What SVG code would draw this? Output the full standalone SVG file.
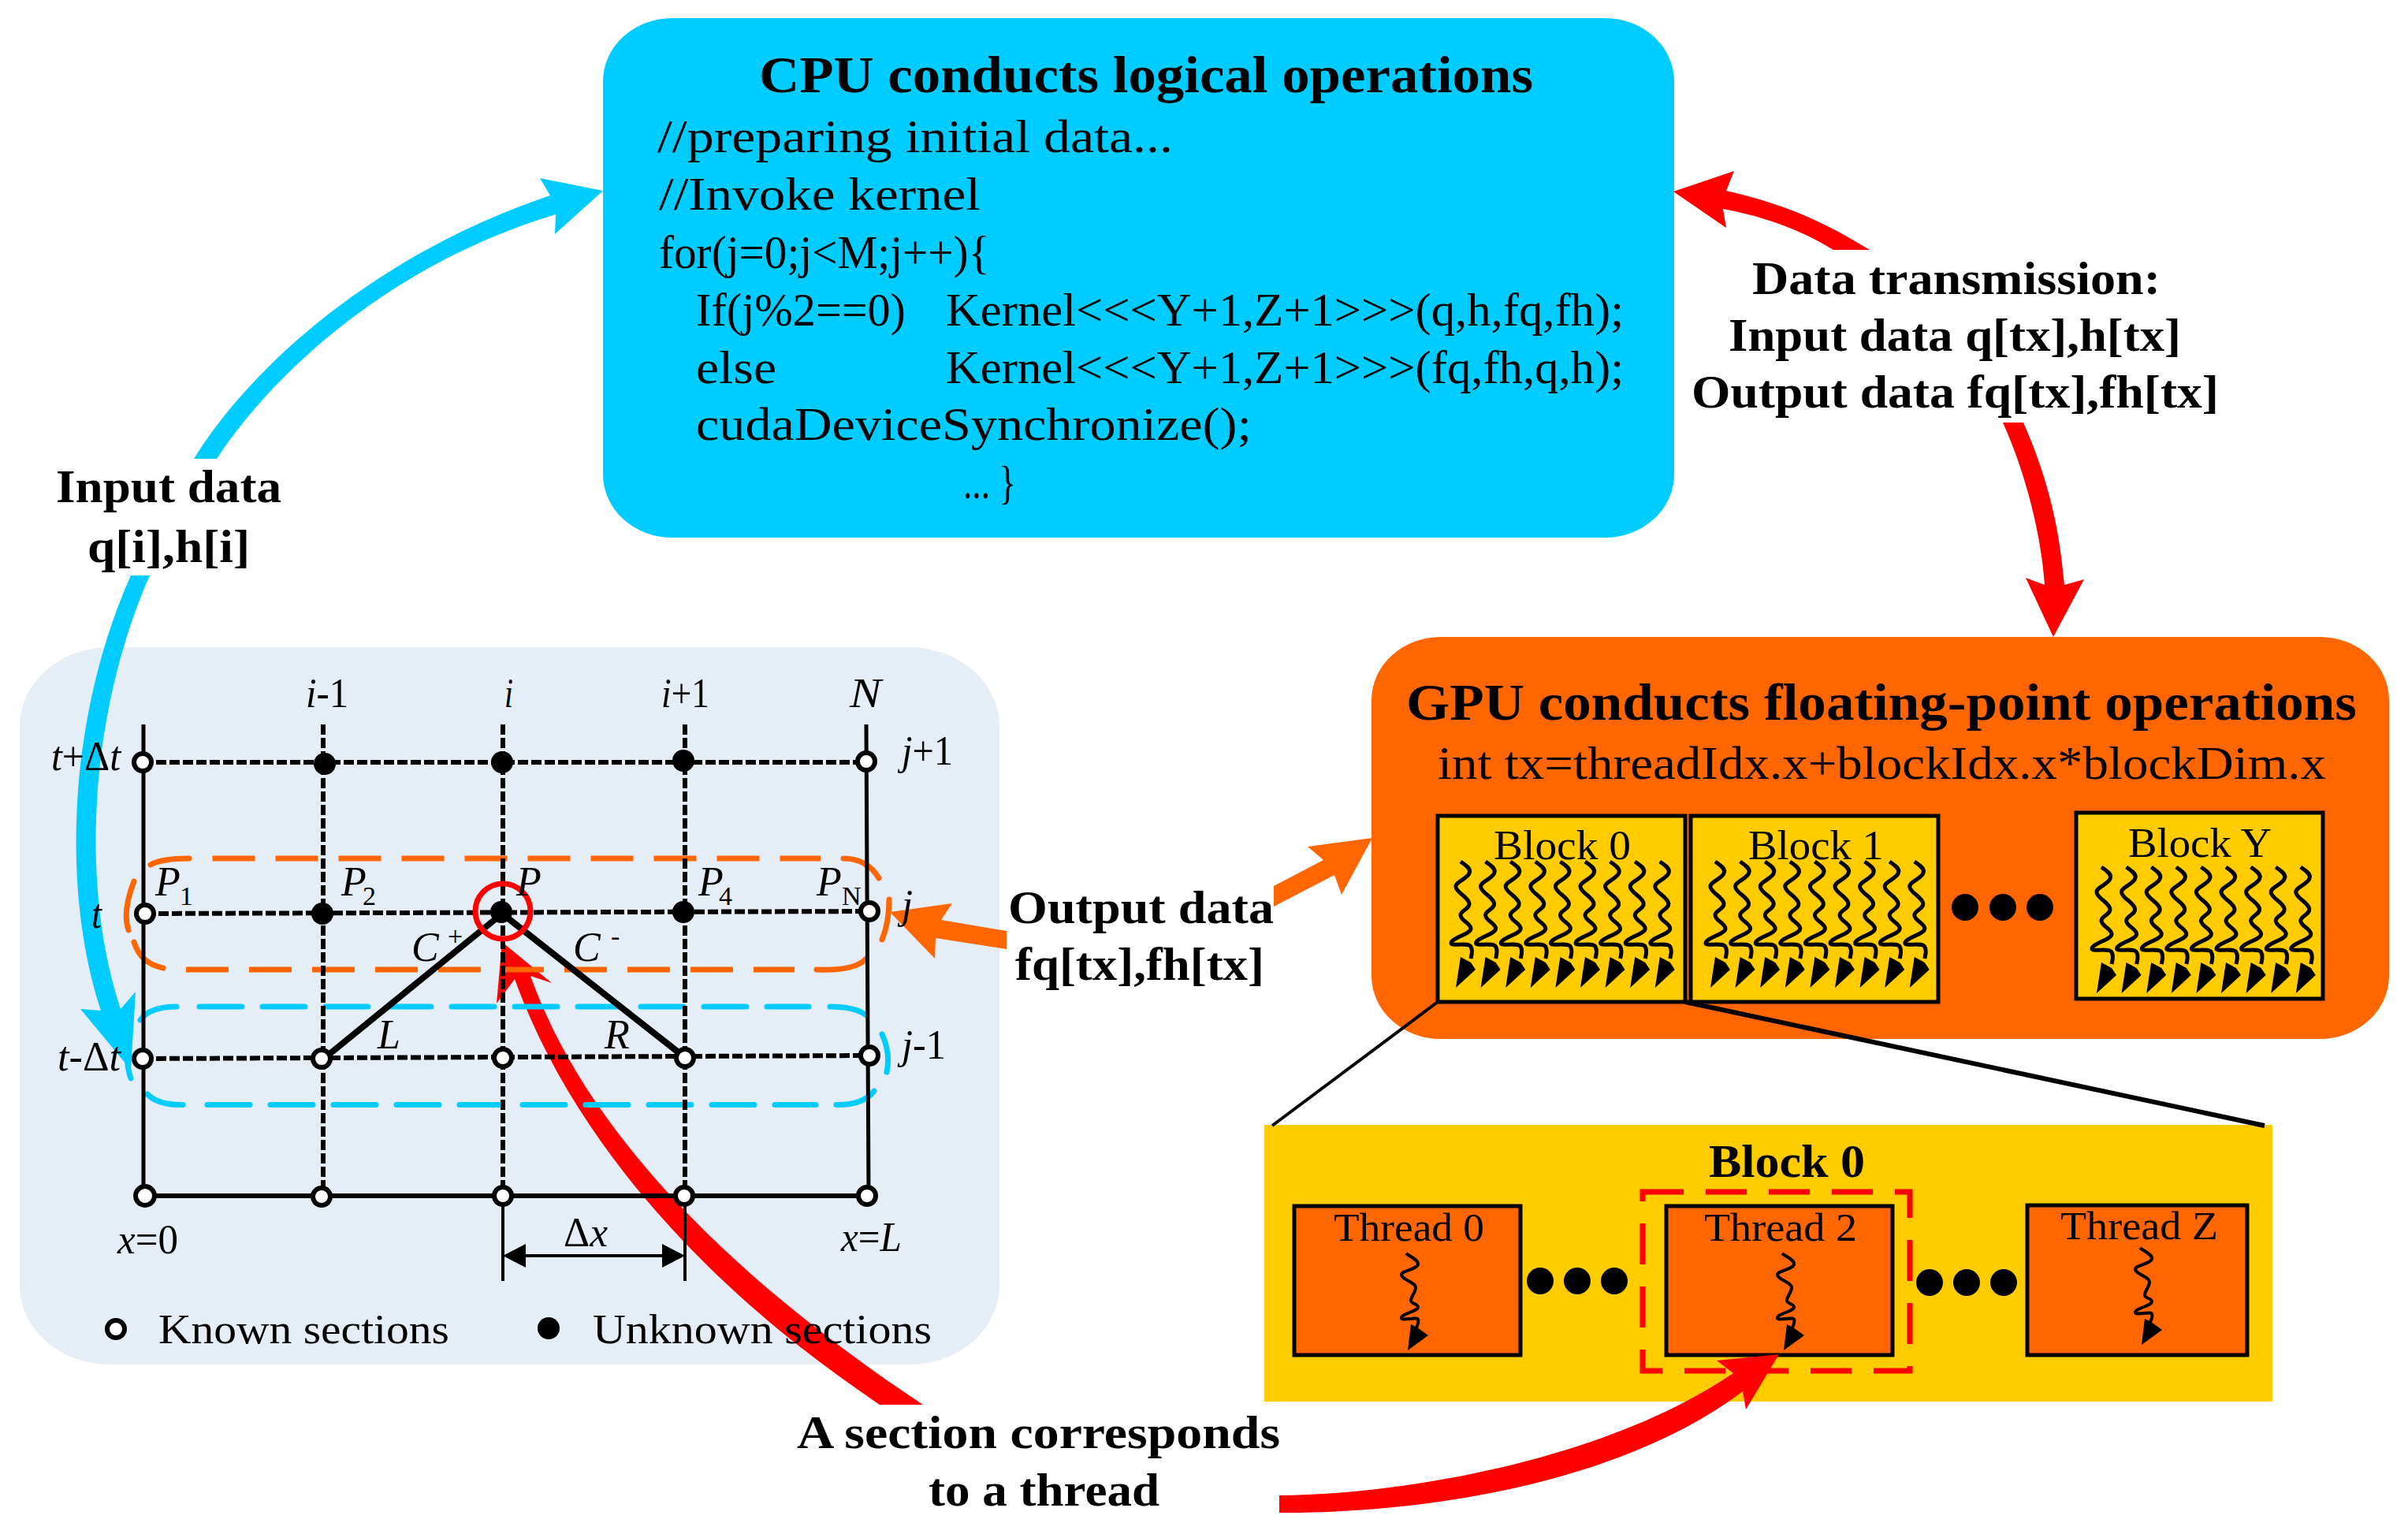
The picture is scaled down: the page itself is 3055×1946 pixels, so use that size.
<svg xmlns="http://www.w3.org/2000/svg" xmlns:xlink="http://www.w3.org/1999/xlink" width="3055" height="1946" viewBox="0 0 3055 1946">
<style>
text{font-family:"Liberation Serif","Times New Roman",serif;fill:#000}
.t{font-size:66px;font-weight:bold}
.c{font-size:60px}
.l{font-size:60px;font-weight:bold}
.b{font-size:52px}
.th{font-size:50px}
.m{font-size:52px;font-style:italic}
.s{font-size:34px}
.u{font-style:normal}
.k{fill:none;stroke:#000;stroke-width:5}
.d{fill:none;stroke:#000;stroke-width:6;stroke-dasharray:13 4}
.o{fill:none;stroke:#FF6600;stroke-width:7;stroke-linecap:round}
.od{stroke-dasharray:54 26;stroke-linecap:butt}
.y{fill:none;stroke:#00CCFF;stroke-width:7;stroke-linecap:round}
.box{fill:#FFCC00;stroke:#000;stroke-width:5}
.tb{fill:#FF6600;stroke:#000;stroke-width:5}
.w{fill:#fff;stroke:#000;stroke-width:6}
.sq{fill:none;stroke:#000;stroke-width:5}
.sqt{fill:none;stroke:#000;stroke-width:4}
</style>
<defs>
<g id="sqb"><path class="sq" d="M0,0C6,4 14,9 11,15C8,22 -7,26 -6,32C-5,40 9,44 11,53C12,60 0,62 0,68C0,75 13,78 13,85C13,92 -10,96 -12,103C-13,108 10,102 13,108C16,113 14,118 13,123"/><polygon points="0,121 13,128 19,137 -6,160"/></g>
<g id="sqt"><path class="sqt" d="M0,0C4,4 16,8 15,14C14,20 -6,22 -6,27C-6,33 12,37 12,43C12,50 6,54 6,60C6,64 15,64 15,68C15,74 -6,76 -6,82C-6,86 15,80 15,84C17,88 13,92 12,98"/><polygon points="6,90 14,94 28,104 2,123"/></g>
<g id="row9"><use xlink:href="#sqb" x="0"/><use xlink:href="#sqb" x="31.6"/><use xlink:href="#sqb" x="63.2"/><use xlink:href="#sqb" x="94.8"/><use xlink:href="#sqb" x="126.4"/><use xlink:href="#sqb" x="158"/><use xlink:href="#sqb" x="189.6"/><use xlink:href="#sqb" x="221.2"/><use xlink:href="#sqb" x="252.8"/></g>
</defs>

<g id="mesh-panel"><rect x="25" y="821" width="1243" height="910" rx="115" ry="100" fill="#E5EDF7"/></g>

<g id="cpu">
<rect x="765" y="23" width="1359" height="659" rx="88" ry="80" fill="#00CCFF"/>
<text class="t" x="963" y="117" textLength="982" lengthAdjust="spacingAndGlyphs">CPU conducts logical operations</text>
<text class="c" x="834" y="193" textLength="654" lengthAdjust="spacingAndGlyphs">//preparing initial data...</text>
<text class="c" x="836" y="266" textLength="408" lengthAdjust="spacingAndGlyphs">//Invoke kernel</text>
<text class="c" x="836" y="340" textLength="420" lengthAdjust="spacingAndGlyphs">for(j=0;j&lt;M;j++){</text>
<text class="c" x="883" y="413" textLength="266" lengthAdjust="spacingAndGlyphs">If(j%2==0)</text>
<text class="c" x="1200" y="413" textLength="860" lengthAdjust="spacingAndGlyphs">Kernel&lt;&lt;&lt;Y+1,Z+1&gt;&gt;&gt;(q,h,fq,fh);</text>
<text class="c" x="883" y="486" textLength="102" lengthAdjust="spacingAndGlyphs">else</text>
<text class="c" x="1200" y="486" textLength="860" lengthAdjust="spacingAndGlyphs">Kernel&lt;&lt;&lt;Y+1,Z+1&gt;&gt;&gt;(fq,fh,q,h);</text>
<text class="c" x="883" y="558" textLength="705" lengthAdjust="spacingAndGlyphs">cudaDeviceSynchronize();</text>
<text class="c" x="1222" y="632" textLength="67" lengthAdjust="spacingAndGlyphs">... }</text>
</g>

<g id="gpu">
<rect x="1740" y="808" width="1291" height="510" rx="88" ry="80" fill="#FF6600"/>
<text class="t" x="1784" y="913" textLength="1206" lengthAdjust="spacingAndGlyphs">GPU conducts floating-point operations</text>
<text class="c" x="1824" y="988" textLength="1127" lengthAdjust="spacingAndGlyphs">int tx=threadIdx.x+blockIdx.x*blockDim.x</text>
<g id="block-0"><rect class="box" x="1824" y="1035" width="314" height="236"/>
<text class="b" x="1895" y="1090" textLength="174" lengthAdjust="spacingAndGlyphs">Block 0</text>
<use xlink:href="#row9" x="1853" y="1093"/></g>
<g id="block-1"><rect class="box" x="2145" y="1035" width="314" height="236"/>
<text class="b" x="2218" y="1090" textLength="172" lengthAdjust="spacingAndGlyphs">Block 1</text>
<use xlink:href="#row9" x="2176" y="1093"/></g>
<g id="block-y"><rect class="box" x="2634" y="1031" width="313" height="236"/>
<text class="b" x="2700" y="1087" textLength="182" lengthAdjust="spacingAndGlyphs">Block Y</text>
<use xlink:href="#row9" x="2666" y="1100"/></g>
<circle cx="2493" cy="1151" r="17"/><circle cx="2541" cy="1151" r="17"/><circle cx="2588" cy="1151" r="17"/>
</g>

<g id="block-detail">
<rect x="1604" y="1427" width="1279" height="351" fill="#FFCC00"/>
<text class="t" style="font-size:60px" x="2168" y="1493" textLength="198" lengthAdjust="spacingAndGlyphs">Block 0</text>
<g id="thread-0"><rect class="tb" x="1642" y="1530" width="287" height="189"/>
<text class="th" x="1692" y="1574" textLength="191" lengthAdjust="spacingAndGlyphs">Thread 0</text>
<use xlink:href="#sqt" x="1784" y="1590"/></g>
<g id="thread-2"><rect class="tb" x="2114" y="1530" width="287" height="189"/>
<text class="th" x="2162" y="1574" textLength="194" lengthAdjust="spacingAndGlyphs">Thread 2</text>
<use xlink:href="#sqt" x="2261" y="1590"/></g>
<g id="thread-z"><rect class="tb" x="2572" y="1529" width="279" height="190"/>
<text class="th" x="2614" y="1572" textLength="200" lengthAdjust="spacingAndGlyphs">Thread Z</text>
<use xlink:href="#sqt" x="2715" y="1583"/></g>
<circle cx="1954" cy="1625" r="17"/><circle cx="2001" cy="1625" r="17"/><circle cx="2048" cy="1625" r="17"/>
<circle cx="2448" cy="1627" r="17"/><circle cx="2495" cy="1627" r="17"/><circle cx="2542" cy="1627" r="17"/>
<rect x="2084" y="1512" width="339" height="227" fill="none" stroke="#FF0000" stroke-width="7" stroke-dasharray="52 28"/>
</g>

<g id="connectors">
<path d="M1824,1271L1614,1428" fill="none" stroke="#000" stroke-width="4"/>
<path d="M2138,1271L2873,1428" fill="none" stroke="#000" stroke-width="6"/>
<path d="M246,582C315,470 470,325 698,248L685,226L765,242L704,297L705,272C495,335 345,475 275,582Z" fill="#00CCFF"/>
<path d="M166,730C90,900 75,1120 128,1282L102,1280L166,1357L172,1258L153,1280C100,1120 115,900 190,730Z" fill="#00CCFF"/>
<path d="M2372,317C2320,285 2270,260 2190,242L2200,217L2123,243L2190,289L2186,265C2240,275 2285,292 2326,317Z" fill="#FF0000"/>
<path d="M2541,536C2570,600 2590,680 2594,742L2570,733L2605,808L2644,735L2619,742C2612,660 2595,600 2567,536Z" fill="#FF0000"/>
<path d="M1277,1181L1194,1167L1208,1146L1129,1157L1186,1216L1187,1190L1277,1204Z" fill="#FF6600"/>
<path d="M1616,1124L1679,1091L1659,1074L1741,1063L1702,1135L1693,1110L1616,1150Z" fill="#FF6600"/>
<path d="M1171,1782C915,1612 740,1427 673,1238L700,1247L637,1195L630,1273L653,1242C723,1437 885,1627 1116,1782Z" fill="#FF0000"/>
<path d="M1623,1897C1790,1895 2040,1850 2199,1742L2178,1726L2257,1718L2215,1788L2211,1765C2060,1880 1810,1920 1623,1919Z" fill="#FF0000"/>
</g>

<g id="mesh">
<path class="o od" d="M269.500,1089H1041M236,1230H1008"/>
<path class="o" d="M191,1097Q205,1089 240,1089M1070,1089Q1100,1089 1115,1114M170,1195Q178,1222 207,1228M1036,1230Q1085,1232 1099,1216M170,1118Q155,1156 163,1180M1128,1141Q1128,1170 1119,1192"/>
<path class="y od" d="M253,1277H1026M263,1401.500H1035"/>
<path class="y" d="M178,1294Q190,1277 224,1277M1053,1277Q1085,1277 1099,1288M187,1388Q200,1402 232,1401.500M1061,1401.500Q1095,1402 1109,1384M162,1335Q160,1350 166,1368M1119,1312Q1130,1335 1125,1360"/>
<path class="k" d="M182,919V1517M1099,919L1102,1517"/>
<path d="M184,1517H1100" fill="none" stroke="#000" stroke-width="6"/>
<path class="d" d="M410,919V1517M638,919V1517M869,919V1517M181,967H1099M184,1159L1103,1156M181,1343L1103,1339"/>
<path d="M638,1517V1625M869,1517V1625M660,1593H847" fill="none" stroke="#000" stroke-width="4"/>
<polygon points="638,1593 667,1578 667,1608"/><polygon points="869,1593 840,1578 840,1608"/>
<path d="M412,1342L637,1159L862,1336" fill="none" stroke="#000" stroke-width="8" stroke-linejoin="round"/>
<g id="nodes-known">
<circle class="w" cx="181" cy="967" r="11"/><circle class="w" cx="184" cy="1159" r="11"/><circle class="w" cx="181" cy="1343" r="11"/><circle class="w" cx="184" cy="1517" r="12"/>
<circle class="w" cx="408" cy="1518" r="11"/><circle class="w" cx="408" cy="1343" r="11"/><circle class="w" cx="638" cy="1342" r="11"/><circle class="w" cx="638" cy="1517" r="11"/>
<circle class="w" cx="869" cy="1342" r="11"/><circle class="w" cx="868" cy="1517" r="11"/><circle class="w" cx="1099" cy="966" r="11"/><circle class="w" cx="1103" cy="1156" r="11"/>
<circle class="w" cx="1103" cy="1339" r="11"/><circle class="w" cx="1100" cy="1517" r="11"/>
</g>
<g id="nodes-unknown">
<circle cx="412" cy="969" r="14"/><circle cx="637" cy="967" r="14"/><circle cx="867" cy="965" r="14"/><circle cx="409" cy="1159" r="14"/><circle cx="636" cy="1157" r="14"/><circle cx="867" cy="1157" r="14"/>
</g>
<circle cx="638" cy="1156" r="35" fill="none" stroke="#FF0000" stroke-width="7"/>
<text class="m" x="388" y="897" textLength="54" lengthAdjust="spacingAndGlyphs">i<tspan class="u">-1</tspan></text>
<text class="m" x="640" y="897" textLength="11" lengthAdjust="spacingAndGlyphs">i</text>
<text class="m" x="839" y="897" textLength="61" lengthAdjust="spacingAndGlyphs">i<tspan class="u">+1</tspan></text>
<text class="m" x="1078" y="897" textLength="40" lengthAdjust="spacingAndGlyphs">N</text>
<text class="m" x="65" y="977" textLength="88" lengthAdjust="spacingAndGlyphs">t<tspan class="u">+Δ</tspan>t</text>
<text class="m" x="116" y="1177" textLength="13" lengthAdjust="spacingAndGlyphs">t</text>
<text class="m" x="73" y="1358" textLength="80" lengthAdjust="spacingAndGlyphs">t<tspan class="u">-Δ</tspan>t</text>
<text class="m" x="1144" y="970" textLength="65" lengthAdjust="spacingAndGlyphs">j<tspan class="u">+1</tspan></text>
<text class="m" x="1144" y="1165" textLength="14" lengthAdjust="spacingAndGlyphs">j</text>
<text class="m" x="1144" y="1343" textLength="56" lengthAdjust="spacingAndGlyphs">j<tspan class="u">-1</tspan></text>
<text class="m" x="197" y="1136">P</text><text class="s" x="228" y="1148">1</text>
<text class="m" x="433" y="1136">P</text><text class="s" x="460" y="1148">2</text>
<text class="m" x="655" y="1136">P</text>
<text class="m" x="886" y="1136">P</text><text class="s" x="912" y="1148">4</text>
<text class="m" x="1036" y="1136">P</text><text class="s" x="1068" y="1148">N</text>
<text class="m" x="522" y="1219">C</text><text class="s" x="568" y="1199">+</text>
<text class="m" x="727" y="1219">C</text><text class="s" x="775" y="1199">-</text>
<text class="m" x="479" y="1330">L</text>
<text class="m" x="767" y="1330">R</text>
<text class="m" x="149" y="1590" textLength="77" lengthAdjust="spacingAndGlyphs">x<tspan class="u">=0</tspan></text>
<text class="m" x="1067" y="1587" textLength="77" lengthAdjust="spacingAndGlyphs">x<tspan class="u">=</tspan>L</text>
<text class="m" x="715" y="1581" textLength="56" lengthAdjust="spacingAndGlyphs"><tspan class="u">Δ</tspan>x</text>
<circle class="w" cx="147" cy="1686" r="11"/>
<text class="b" x="201" y="1704" textLength="369" lengthAdjust="spacingAndGlyphs">Known sections</text>
<circle cx="696" cy="1685" r="14"/>
<text class="b" x="752" y="1704" textLength="430" lengthAdjust="spacingAndGlyphs">Unknown sections</text>
</g>

<g id="labels">
<text class="l" x="71" y="637" textLength="286" lengthAdjust="spacingAndGlyphs">Input data</text>
<text class="l" x="111" y="713" textLength="206" lengthAdjust="spacingAndGlyphs">q[i],h[i]</text>
<text class="l" x="2223" y="373" textLength="518" lengthAdjust="spacingAndGlyphs">Data transmission:</text>
<text class="l" x="2193" y="445" textLength="574" lengthAdjust="spacingAndGlyphs">Input data q[tx],h[tx]</text>
<text class="l" x="2146" y="517" textLength="669" lengthAdjust="spacingAndGlyphs">Output data fq[tx],fh[tx]</text>
<text class="l" x="1279" y="1171" textLength="337" lengthAdjust="spacingAndGlyphs">Output data</text>
<text class="l" x="1288" y="1243" textLength="316" lengthAdjust="spacingAndGlyphs">fq[tx],fh[tx]</text>
<text class="l" x="1011" y="1837" textLength="613" lengthAdjust="spacingAndGlyphs">A section corresponds</text>
<text class="l" x="1178" y="1910" textLength="293" lengthAdjust="spacingAndGlyphs">to a thread</text>
</g>
</svg>
